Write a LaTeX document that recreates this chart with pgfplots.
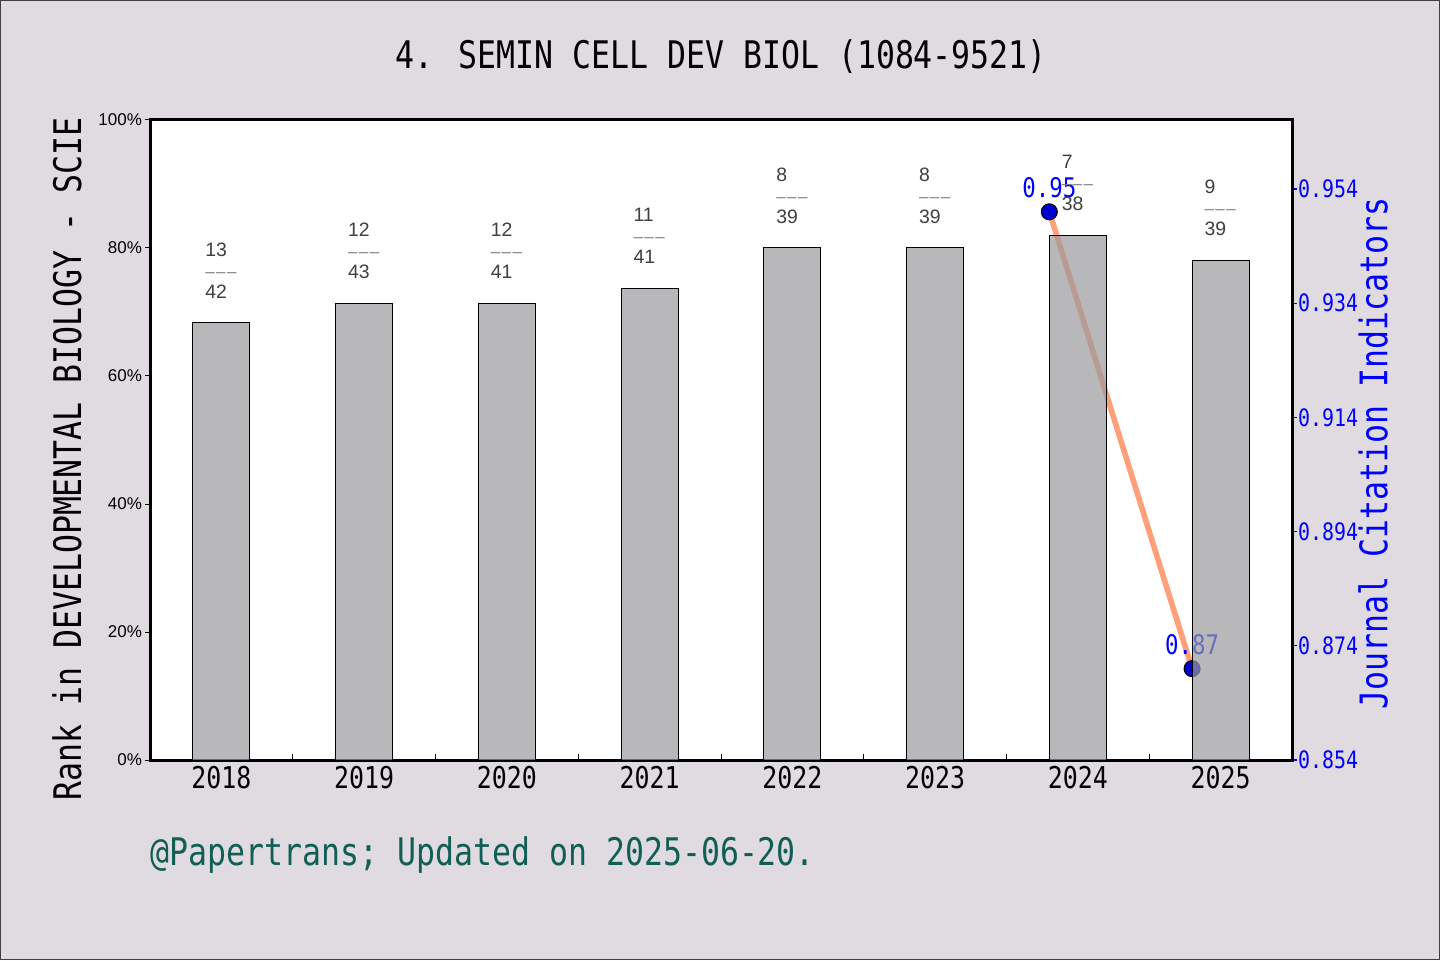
\documentclass[border=0pt]{standalone}
\usepackage{pgfplots}
\pgfplotsset{compat=1.18}
\usepackage{fontspec}
\setmainfont{Liberation Sans}
\newfontfamily\hei[FakeStretch=0.83]{DejaVu Sans Mono}
\definecolor{bg}{HTML}{DFDBE0}
\definecolor{barc}{RGB}{154,155,158}
\definecolor{salmon}{HTML}{FFA07A}
\definecolor{markc}{HTML}{0000CD}
\definecolor{footc}{HTML}{105E54}
\definecolor{labc}{HTML}{404040}
\definecolor{dashc}{HTML}{808080}
\protected\def\dd{{\color{dashc}\fontsize{8.5}{10.5}\selectfont –\kern0.7pt–\kern0.7pt–}}
\begin{document}
\begin{tikzpicture}
\fill[bg] (0,0) rectangle (720pt,480pt);
\draw[black!75, line width=0.6pt] (0.3pt,0.3pt) rectangle (719.7pt,479.7pt);
\useasboundingbox (0,0) rectangle (720pt,480pt);
\node[font=\hei\fontsize{19}{19}\selectfont, anchor=center] at (360.5pt,451.5pt) {4. SEMIN CELL DEV BIOL (1084-9521)};
\node[font=\hei\fontsize{19}{19}\selectfont, text=footc, anchor=west, inner sep=0pt] at (75pt,52.5pt) {@Papertrans; Updated on 2025-06-20.};

\begin{axis}[
 at={(75pt,100pt)}, anchor=south west, scale only axis, width=571pt, height=320pt,
 xmin=-0.5, xmax=7.5, ymin=0.854, ymax=0.96608,
 axis background/.style={fill=white},
 hide x axis, axis y line*=right,
 axis line style={line width=1.5pt, black},
 ytick={0.854,0.874,0.894,0.914,0.934,0.954},
 yticklabels={0.854,0.874,0.894,0.914,0.934,0.954},
 tick align=outside, major tick length=2.5pt,
 y tick style={blue, line width=0.6pt},
 y tick label style={font=\hei\fontsize{12}{12}\selectfont, text=blue, xshift=-3pt},
 ylabel={Journal Citation Indicators},
 ylabel style={font=\hei\fontsize{19}{19}\selectfont, text=blue, at={(rel axis cs:1.0709,0.479)}, anchor=center},
 clip=false,
]
\addplot[color=salmon, line width=2.8pt] coordinates {(5.8,0.95) (6.8,0.87)};
\addplot[only marks, mark=*, mark size=4pt, mark options={fill=markc, draw=black, line width=0.5pt},
 nodes near coords, point meta=explicit symbolic,
 every node near coord/.append style={anchor=center, yshift=12pt, font=\hei\fontsize{13.5}{13.5}\selectfont, text=blue}]
 coordinates {(5.8,0.95) [0.95] (6.8,0.87) [0.87]};
\end{axis}

\begin{axis}[
 at={(75pt,100pt)}, anchor=south west, scale only axis, width=571pt, height=320pt,
 xmin=-0.5, xmax=7.5, ymin=0, ymax=100,
 axis line style={line width=1.5pt},
 ytick={0,20,40,60,80,100}, yticklabels={0\%,20\%,40\%,60\%,80\%,100\%},
 ytick pos=left, xtick pos=bottom,
 xtick={0,1,2,3,4,5,6,7}, xticklabels={2018,2019,2020,2021,2022,2023,2024,2025},
 tick align=outside, major tick length=2.5pt,
 xtick style={draw=none},
 ytick style={black, line width=0.5pt},
 extra x ticks={0.5,1.5,2.5,3.5,4.5,5.5,6.5}, extra x tick labels={,,,,,,},
 extra x tick style={tick align=inside, xtick style={draw=black, line width=0.5pt}, major tick length=3pt},
 x tick label style={font=\hei\fontsize{15}{15}\selectfont, yshift=3pt},
 y tick label style={font=\fontsize{8.5}{8.5}\selectfont, xshift=2pt},
 ylabel={Rank in DEVELOPMENTAL BIOLOGY - SCIE},
 ylabel style={font=\hei\fontsize{19}{19}\selectfont, at={(rel axis cs:-0.0727,0.4703)}, anchor=center},
 clip=false,
]
\addplot[ybar, bar width=0.4, fill=barc, fill opacity=0.7, draw=black, line width=0.5pt,
 nodes near coords, point meta=explicit symbolic,
 nodes near coords align={anchor=west},
 every node near coord/.append style={anchor=west, xshift=-8.25pt, yshift=26pt, align=left,
   font=\fontsize{9.7}{10.5}\selectfont, text=labc, fill opacity=1, text opacity=1, inner sep=0pt}]
 coordinates {
 (0,68.3) [13\\\dd\\42]
 (1,71.4) [12\\\dd\\43]
 (2,71.4) [12\\\dd\\41]
 (3,73.7) [11\\\dd\\41]
 (4,80.0) [8\\\dd\\39]
 (5,80.0) [8\\\dd\\39]
 (6,82.0) [7\\\dd\\38]
 (7,78.1) [9\\\dd\\39]
 };
\end{axis}
\end{tikzpicture}
\end{document}
